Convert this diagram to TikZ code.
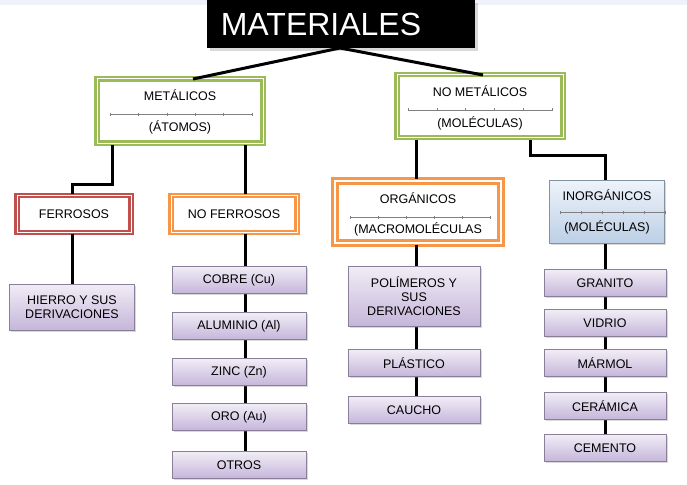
\documentclass[tikz,border=0pt]{standalone}
\usepackage{fontspec}
\setmainfont{Liberation Sans}
\usetikzlibrary{shadows}
\definecolor{grn}{HTML}{9BBB59}
\definecolor{org}{HTML}{F79646}
\definecolor{redb}{HTML}{C0504D}
\definecolor{purT}{HTML}{F1EDF6}
\definecolor{purB}{HTML}{C5B6DA}
\definecolor{bluT}{HTML}{EEF3FA}
\definecolor{bluB}{HTML}{BCCFE6}
\begin{document}
\begin{tikzpicture}[x=1pt,y=-1pt,font=\fontsize{12.5}{14}\selectfont,
 conn/.style={line width=3pt},
 dbl/.style={double distance=1pt,line width=2.4pt,fill=white},
 leaf/.style={draw=purB!70!black,line width=0.3pt,top color=purT,bottom color=purB,drop shadow={opacity=0.3,shadow xshift=1.5pt,shadow yshift=-1.5pt},align=center,minimum height=27pt,inner sep=1pt},
 tick/.style={draw=gray,line width=0.4pt}]
\useasboundingbox (0,0) rectangle (687,484);
\fill[bluT] (0,0) rectangle (687,5);
% top
\node[fill=black,text=white,minimum width=268pt,minimum height=48pt,font=\fontsize{32}{34}\selectfont,drop shadow={opacity=0.3}] (mat) at (341,24) {\hspace*{-40pt}MATERIALES};
\coordinate (mc) at (340,48);
% level 1
\node[dbl,draw=grn,minimum width=166pt,minimum height=64pt] (met) at (180,111) {};
\node (mett) at (180,95) {METÁLICOS};
\node (meta) at (180,127) {(ÁTOMOS)};
\node[dbl,draw=grn,minimum width=166pt,minimum height=63pt] (nmet) at (480,106) {};
\node (nmett) at (480,91) {NO METÁLICOS};
\node (nmeta) at (480,123) {(MOLÉCULAS)};
\foreach \yy/\xa/\xb in {114/110/252, 110/408/552}{
  \draw[tick] (\xa,\yy) -- (\xb,\yy);
  \foreach \i in {0,...,5}{\draw[tick] ({\xa+\i*(\xb-\xa)/5},\yy-1.5) -- ({\xa+\i*(\xb-\xa)/5},\yy+1.5);}
}
\draw[conn] (mc) -- (193,79);
\draw[conn] (mc) -- (483,75);
% level 2
\node[dbl,draw=redb,minimum width=114pt,minimum height=37pt] (fer) at (74,214) {FERROSOS};
\node[dbl,draw=org,minimum width=126pt,minimum height=37pt] (nfer) at (234,214) {NO FERROSOS};
\node[draw=org,line width=3.5pt,double=white,double distance=1.5pt,fill=white,minimum width=166pt,minimum height=62pt] (org) at (418,212) {};
\node (orgt) at (418,198) {ORGÁNICOS};
\node (orga) at (418,229) {(MACROMOLÉCULAS};
\draw[tick] (350,217) -- (490,217);
\foreach \i in {0,...,5}{\draw[tick] ({350+\i*28},215.5) -- ({350+\i*28},218.5);}
\node[draw=bluB!70!black,line width=0.3pt,top color=bluT,bottom color=bluB,minimum width=115pt,minimum height=63pt,drop shadow={opacity=0.3,shadow xshift=1.5pt,shadow yshift=-1.5pt}] (inorg) at (607,212) {};
\node (inorgt) at (607,195) {INORGÁNICOS};
\node (inorga) at (607,227) {(MOLÉCULAS)};
\draw[tick] (560,212) -- (665,212);
\foreach \i in {0,...,5}{\draw[tick] ({560+\i*21},210.5) -- ({560+\i*21},213.5);}
% connectors level 1->2
\draw[conn] (112,145) -- (112,184) -- (72,184) -- (fer.north -| 72,0);
\draw[conn] (245,145) -- (nfer.north -| 245,0);
\draw[conn] (416,140) -- (org.north -| 416,0);
\draw[conn] (530,140) -- (530,155) -- (605,155) -- (inorg.north -| 605,0);
% leaves
\node[leaf,minimum width=125pt,minimum height=46pt] (hie) at (72,307) {HIERRO Y SUS\\DERIVACIONES};
\draw[conn] (fer.south -| 72,0) -- (hie.north -| 72,0);
\draw[conn] (nfer.south -| 245,0) -- (245,451);
\foreach \n/\t/\y in {cu/COBRE (Cu)/280, al/ALUMINIO (Al)/326, zn/ZINC (Zn)/372, au/ORO (Au)/417, ot/OTROS/465}{
  \node[leaf,minimum width=134pt] (\n) at (239,\y) {\t};}
% organic
\draw[conn] (org.south -| 416,0) -- (416,396);
\node[leaf,minimum width=132pt,minimum height=60pt] (pol) at (414,296) {POLÍMEROS Y\\SUS\\DERIVACIONES};
\node[leaf,minimum width=132pt] (pla) at (414,363) {PLÁSTICO};
\node[leaf,minimum width=132pt] (cau) at (414,410) {CAUCHO};
% inorganic
\draw[conn] (inorg.south -| 605,0) -- (605,435);
\foreach \n/\t/\y in {gr/GRANITO/283, vi/VIDRIO/323, ma/MÁRMOL/363, ce/CERÁMICA/406, cm/CEMENTO/448}{
  \node[leaf,minimum width=122pt] (\n) at (605,\y) {\t};}
\end{tikzpicture}
\end{document}
